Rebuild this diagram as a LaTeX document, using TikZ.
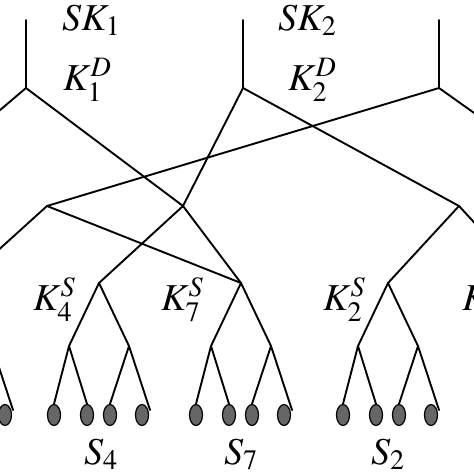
\documentclass[tikz,border=0pt]{standalone}
\usepackage{mathptmx}
\usetikzlibrary{shapes.geometric}
\tikzset{
  edge/.style={line width=1.9pt, line cap=round},
  leaf/.style={ellipse, draw=black, line width=1.2pt, fill=black!60,
    minimum width=13pt, minimum height=21pt, inner sep=0pt},
  lbl/.style={anchor=base west, inner sep=0pt, font=\fontsize{38}{42}\selectfont},
  subtree/.pic={
    \coordinate (-a) at (0,0);
    \coordinate (-l) at (-30,63);
    \coordinate (-r) at (30,63);
    \node[leaf] (-l1) at (-45,132) {};
    \node[leaf] (-l2) at (-12,132) {};
    \node[leaf] (-l3) at (11,132) {};
    \node[leaf] (-l4) at (43,132) {};
    \coordinate (-e4) at (51,127);
    \draw[edge] (-a) -- (-l);
    \draw[edge] (-a) -- (-r);
    \draw[edge] (-l) -- (-l1.north);
    \draw[edge] (-l) -- (-l2.north);
    \draw[edge] (-r) -- (-l3.north);
    \draw[edge] (-r) -- (-e4);
  }
}
\begin{document}
\begin{tikzpicture}[x=1pt,y=-1pt]
  \useasboundingbox (0,0) rectangle (474,474);
  \clip (0,0) rectangle (474,474);
  % top level
  \coordinate (T1top) at (26,20);  \coordinate (T1) at (26,88);
  \coordinate (T2top) at (243,20); \coordinate (T2) at (243,88);
  \coordinate (T3top) at (439,20); \coordinate (T3) at (439,88);
  % middle level
  \coordinate (M0) at (-113,206);
  \coordinate (M1) at (47,206);
  \coordinate (M2) at (183,206);
  \coordinate (M3) at (459,206);
  \coordinate (M5) at (605,206);
  % subtree roots
  \pic (s0) at (-38,283) {subtree};
  \pic (s1) at (99,283) {subtree};
  \pic (s2) at (241,283) {subtree};
  \pic (s3) at (388,283) {subtree};
  \pic (s4) at (530,283) {subtree};
  % connectors
  \draw[edge] (T1top) -- (T1);
  \draw[edge] (T2top) -- (T2);
  \draw[edge] (T3top) -- (T3);
  \draw[edge] (T1) -- (M0);
  \draw[edge] (T1) -- (M2);
  \draw[edge] (T2) -- (M2);
  \draw[edge] (T2) -- (M3);
  \draw[edge] (T3) -- (M1);
  \draw[edge] (T3) -- (M5);
  \draw[edge] (M1) -- (s0-a);
  \draw[edge] (M1) -- (s2-a);
  \draw[edge] (M2) -- (s1-a);
  \draw[edge] (M2) -- (s2-a);
  \draw[edge] (M3) -- (s3-a);
  \draw[edge] (M3) -- (s4-a);
  % labels
  \node[lbl] (sk1) at (62,30) {$SK_1$};
  \node[lbl] (kd1) at (63,90) {$K_1^D$};
  \node[lbl] (sk2) at (278,30) {$SK_2$};
  \node[lbl] (kd2) at (288,90) {$K_2^D$};
  \node[lbl] (ks4) at (33,310) {$K_4^S$};
  \node[lbl] (ks7) at (161,310) {$K_7^S$};
  \node[lbl] (ks2) at (323,310) {$K_2^S$};
  \node[lbl] (ks8) at (462,310) {$K$};
  \node[lbl] (ss4) at (84,464) {$S_4$};
  \node[lbl] (ss7) at (224,464) {$S_7$};
  \node[lbl] (ss2) at (371,464) {$S_2$};
\end{tikzpicture}
\end{document}
